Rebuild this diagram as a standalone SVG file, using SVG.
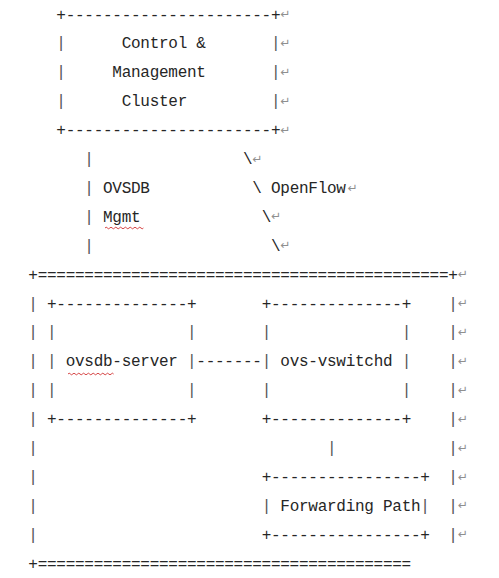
<svg xmlns="http://www.w3.org/2000/svg" width="499" height="578" viewBox="0 0 499 578" xml:space="preserve">
<style>
  .t { font-family: "Liberation Mono", "DejaVu Sans Mono", monospace; font-size: 16px; letter-spacing: -0.27px; fill: #262626; }
  .b { fill: #555555; }
  .pm { font-family: "DejaVu Sans", sans-serif; font-size: 12px; fill: #8f8f8f; }
  .sq { fill: none; stroke: #d03030; stroke-width: 0.9; }
</style>
<rect width="499" height="578" fill="#ffffff"/>

<g id="control-cluster">
  <text class="t" x="56.33" y="19.5">+----------------------+</text>
  <text class="t b" x="56.33" y="48.4">|</text><text class="t" x="121.67" y="48.4">Control &amp;</text><text class="t b" x="271" y="48.4">|</text>
  <text class="t b" x="56.33" y="77.3">|</text><text class="t" x="112.33" y="77.3">Management</text><text class="t b" x="271" y="77.3">|</text>
  <text class="t b" x="56.33" y="106.2">|</text><text class="t" x="121.67" y="106.2">Cluster</text><text class="t b" x="271" y="106.2">|</text>
  <text class="t" x="56.33" y="135.1">+----------------------+</text>
</g>

<g id="host">
  <text class="t" x="28.33" y="279.6">+============================================+</text>
  <text class="t b" x="28.33" y="308.5">|</text><text class="t b" x="448.33" y="308.5">|</text>
  <text class="t b" x="28.33" y="337.4">|</text><text class="t b" x="448.33" y="337.4">|</text>
  <text class="t b" x="28.33" y="366.3">|</text><text class="t b" x="448.33" y="366.3">|</text>
  <text class="t b" x="28.33" y="395.2">|</text><text class="t b" x="448.33" y="395.2">|</text>
  <text class="t b" x="28.33" y="424.1">|</text><text class="t b" x="448.33" y="424.1">|</text>
  <text class="t b" x="28.33" y="453">|</text><text class="t b" x="448.33" y="453">|</text>
  <text class="t b" x="28.33" y="481.9">|</text><text class="t b" x="448.33" y="481.9">|</text>
  <text class="t b" x="28.33" y="510.8">|</text><text class="t b" x="448.33" y="510.8">|</text>
  <text class="t b" x="28.33" y="539.7">|</text><text class="t b" x="448.33" y="539.7">|</text>
  <text class="t" x="28.33" y="568.6">+========================================</text>
</g>

<g id="ovsdb-server">
  <text class="t" x="47" y="308.5">+--------------+</text>
  <text class="t b" x="47" y="337.4">|</text><text class="t b" x="187" y="337.4">|</text>
  <text class="t b" x="47" y="366.3">|</text><text class="t" x="65.67" y="366.3">ovsdb-server</text><text class="t b" x="187" y="366.3">|</text>
  <text class="t b" x="47" y="395.2">|</text><text class="t b" x="187" y="395.2">|</text>
  <text class="t" x="47" y="424.1">+--------------+</text>
  <path class="sq" d="M68,374 q1.2,-1.6 2.4,0 t2.4,0 t2.4,0 t2.4,0 t2.4,0 t2.4,0 t2.4,0 t2.4,0 t2.4,0 t2.4,0 t2.4,0 t2.4,0 t2.4,0 t2.4,0 t2.4,0 t2.4,0 t2.4,0 t2.4,0 t2.4,0"/>
</g>

<g id="ovs-vswitchd">
  <text class="t" x="261.67" y="308.5">+--------------+</text>
  <text class="t b" x="261.67" y="337.4">|</text><text class="t b" x="401.67" y="337.4">|</text>
  <text class="t b" x="261.67" y="366.3">|</text><text class="t" x="280.33" y="366.3">ovs-vswitchd</text><text class="t b" x="401.67" y="366.3">|</text>
  <text class="t b" x="261.67" y="395.2">|</text><text class="t b" x="401.67" y="395.2">|</text>
  <text class="t" x="261.67" y="424.1">+--------------+</text>
</g>

<g id="forwarding-path">
  <text class="t" x="261.67" y="481.9">+----------------+</text>
  <text class="t b" x="261.67" y="510.8">|</text><text class="t" x="280.33" y="510.8">Forwarding Path</text><text class="t b" x="420.33" y="510.8">|</text>
  <text class="t" x="261.67" y="539.7">+----------------+</text>
</g>

<g id="connectors">
  <g id="ovsdb-mgmt">
    <text class="t b" x="84.33" y="164">|</text>
    <text class="t b" x="84.33" y="192.9">|</text><text class="t" x="103" y="192.9">OVSDB</text>
    <text class="t b" x="84.33" y="221.8">|</text><text class="t" x="103" y="221.8">Mgmt</text>
    <text class="t b" x="84.33" y="250.7">|</text>
    <path class="sq" d="M105,228 q1.2,-1.6 2.4,0 t2.4,0 t2.4,0 t2.4,0 t2.4,0 t2.4,0 t2.4,0 t2.4,0 t2.4,0 t2.4,0 t2.4,0 t2.4,0 t2.4,0 t2.4,0 t2.4,0 t2.4,0"/>
  </g>
  <g id="openflow">
    <text class="t" x="243" y="164">\</text>
    <text class="t" x="252.33" y="192.9">\</text><text class="t" x="271" y="192.9">OpenFlow</text>
    <text class="t" x="261.67" y="221.8">\</text>
    <text class="t" x="271" y="250.7">\</text>
  </g>
  <text id="db-link" class="t" x="196.33" y="366.3">-------</text>
  <text id="datapath-link" class="t b" x="327" y="453">|</text>
</g>

<g id="paragraph-marks">
  <text class="pm" x="280.33" y="18">↵</text>
  <text class="pm" x="280.33" y="47">↵</text>
  <text class="pm" x="280.33" y="76">↵</text>
  <text class="pm" x="280.33" y="104.8">↵</text>
  <text class="pm" x="280.33" y="133.7">↵</text>
  <text class="pm" x="252.33" y="162.6">↵</text>
  <text class="pm" x="347.5" y="191.5">↵</text>
  <text class="pm" x="271" y="220.4">↵</text>
  <text class="pm" x="280.33" y="249.3">↵</text>
  <text class="pm" x="457.67" y="278.2">↵</text>
  <text class="pm" x="457.67" y="307.1">↵</text>
  <text class="pm" x="457.67" y="336">↵</text>
  <text class="pm" x="457.67" y="364.9">↵</text>
  <text class="pm" x="457.67" y="393.8">↵</text>
  <text class="pm" x="457.67" y="422.7">↵</text>
  <text class="pm" x="457.67" y="451.6">↵</text>
  <text class="pm" x="457.67" y="480.5">↵</text>
  <text class="pm" x="457.67" y="509.4">↵</text>
  <text class="pm" x="457.67" y="538.3">↵</text>
</g>
</svg>
